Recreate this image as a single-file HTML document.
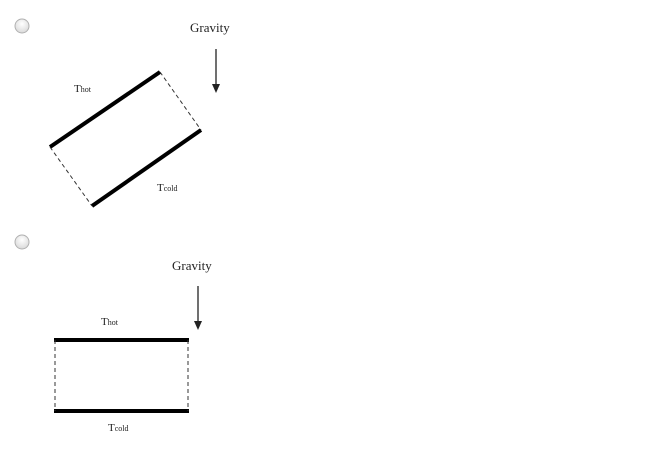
<!DOCTYPE html>
<html><head><style>body{margin:0;background:#fff;width:666px;height:460px;overflow:hidden}</style></head><body>
<svg width="666" height="460" xmlns="http://www.w3.org/2000/svg" font-family="Liberation Serif, serif" fill="#222">
<defs>
<radialGradient id="g" cx="50%" cy="35%" r="60%"><stop offset="0" stop-color="#fff"/><stop offset="1" stop-color="#dcdcdc"/></radialGradient>
</defs>
<circle cx="22" cy="26" r="7" fill="url(#g)" stroke="#b0b0b0"/>
<circle cx="22" cy="242" r="7" fill="url(#g)" stroke="#b0b0b0"/>
<text x="190" y="32" font-size="13">Gravity</text>
<line x1="216" y1="49" x2="216" y2="85" stroke="#222" stroke-width="1.3"/>
<polygon points="212,84 220,84 216,93" fill="#222"/>
<line x1="50" y1="147" x2="160" y2="72" stroke="#000" stroke-width="4"/>
<line x1="201" y1="130" x2="92" y2="206" stroke="#000" stroke-width="4"/>
<line x1="160" y1="72" x2="201" y2="130" stroke="#333" stroke-width="1" stroke-dasharray="4,3"/>
<line x1="50" y1="147" x2="92" y2="206" stroke="#333" stroke-width="1" stroke-dasharray="4,3"/>
<text x="74" y="92" font-size="11">T<tspan font-size="8">hot</tspan></text>
<text x="157" y="191" font-size="11">T<tspan font-size="8">cold</tspan></text>
<text x="172" y="270" font-size="13">Gravity</text>
<line x1="198" y1="286" x2="198" y2="322" stroke="#222" stroke-width="1.3"/>
<polygon points="194,321 202,321 198,330" fill="#222"/>
<line x1="54" y1="340" x2="189" y2="340" stroke="#000" stroke-width="4"/>
<line x1="54" y1="411" x2="189" y2="411" stroke="#000" stroke-width="4"/>
<line x1="55" y1="340" x2="55" y2="411" stroke="#333" stroke-width="1" stroke-dasharray="4,3"/>
<line x1="188" y1="340" x2="188" y2="411" stroke="#333" stroke-width="1" stroke-dasharray="4,3"/>
<text x="101" y="325" font-size="11">T<tspan font-size="8">hot</tspan></text>
<text x="108" y="431" font-size="11">T<tspan font-size="8">cold</tspan></text>
</svg>
</body></html>
